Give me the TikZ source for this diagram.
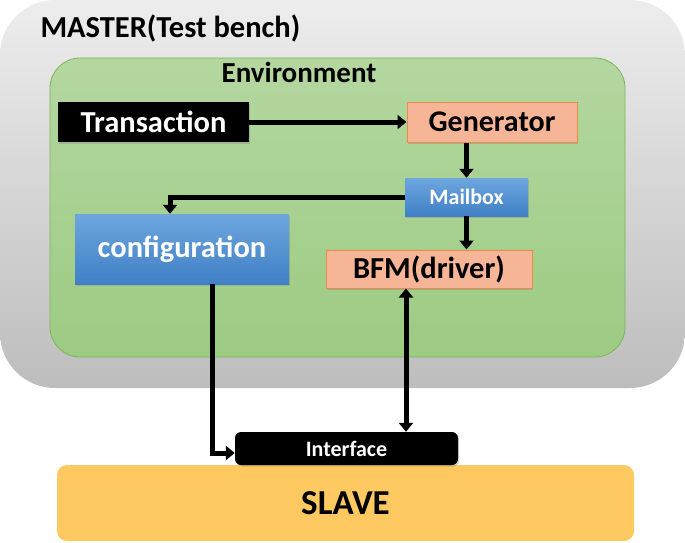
\documentclass[tikz,border=0pt]{standalone}
\usepackage{fontspec}
\setmainfont{Carlito}
\usetikzlibrary{arrows.meta,shadows,calc}
\definecolor{grayT}{HTML}{EDEDED}
\definecolor{grayB}{HTML}{BDBDBD}
\definecolor{greenT}{HTML}{B4D7A0}
\definecolor{greenB}{HTML}{9CCB82}
\definecolor{greenE}{HTML}{7DB65A}
\definecolor{salmon}{HTML}{F7B597}
\definecolor{salmonE}{HTML}{EE8A48}
\definecolor{blueT}{HTML}{6EA6DE}
\definecolor{blueB}{HTML}{3F80C6}
\definecolor{slave}{HTML}{FEC960}
\tikzset{
  shad/.style={drop shadow={shadow xshift=1pt,shadow yshift=-1.5pt,opacity=0.35}},
  blackbox/.style={fill=black,text=white,font=\bfseries,shad,inner sep=0pt},
  salmonbox/.style={fill=salmon,draw=salmonE,line width=1pt,font=\bfseries,shad,inner sep=0pt},
  bluebox/.style={top color=blueT,bottom color=blueB,text=white,font=\bfseries,shad,inner sep=0pt},
  arr/.style={line width=5pt,-{Triangle[length=9pt,width=14pt]}},
  darr/.style={line width=5pt,{Triangle[length=9pt,width=14pt]}-{Triangle[length=9pt,width=14pt]}}
}
\begin{document}
\begin{tikzpicture}[x=1pt,y=-1pt]
\useasboundingbox (0,0) rectangle (685,543);
% outer master
\path[top color=grayT,bottom color=grayB,rounded corners=55pt] (0,0) rectangle (685,388);
\node[anchor=west,font=\bfseries\fontsize{30.5}{32}\selectfont] (master) at (37,28) {MASTER(Test bench)};
% environment
\path[top color=greenT,bottom color=greenB,draw=greenE,line width=0.8pt,rounded corners=30pt] (50,58) rectangle (625,357);
\node[font=\bfseries\fontsize{29}{31}\selectfont] (env) at (299,72) {Environment};
% nodes
\node[blackbox,minimum width=191pt,minimum height=40pt,font=\bfseries\fontsize{30.5}{32}\selectfont] (trans) at (153.5,122) {Transaction};
\node[salmonbox,minimum width=170pt,minimum height=40pt,font=\bfseries\fontsize{30}{32}\selectfont] (gen) at (492,122) {Generator};
\node[bluebox,minimum width=123pt,minimum height=38pt,font=\bfseries\fontsize{22}{24}\selectfont] (mb) at (466.5,197) {Mailbox};
\node[salmonbox,minimum width=206pt,minimum height=38pt,font=\bfseries\fontsize{30.5}{32}\selectfont] (bfm) at (429,269) {BFM(driver)};
\node[bluebox,minimum width=214pt,minimum height=70pt,font=\bfseries\fontsize{30.5}{32}\selectfont] (cfg) at (182,249) {configuration};
% slave
\node[fill=slave,rounded corners=10pt,minimum width=577pt,minimum height=76pt,inner sep=0pt,font=\bfseries\fontsize{35}{37}\selectfont] (slv) at (345.5,503) {SLAVE};
\node[blackbox,rounded corners=6pt,minimum width=223pt,minimum height=33pt,font=\bfseries\fontsize{22}{24}\selectfont] (ifc) at (346.5,448.5) {Interface};
% connectors
\draw[arr] (trans) -- (gen);
\draw[arr] (mb.north |- gen.south) -- (mb.north);
\draw[arr] (mb.south) -- (mb.south |- bfm.north);
\draw[arr] (mb.west) -| ([xshift=-12pt]cfg.north);
\draw[arr] ([xshift=30pt]cfg.south) |- ([yshift=-4.5pt]ifc.west);
\draw[darr] ([xshift=-23pt]bfm.south) -- ([xshift=-23pt]bfm.south |- ifc.north);
\end{tikzpicture}
\end{document}
